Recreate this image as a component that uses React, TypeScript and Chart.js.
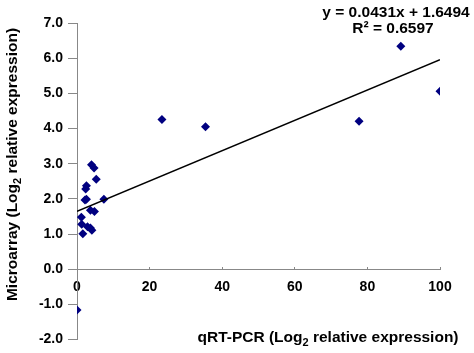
import React, { useEffect, useRef } from "react";
import { Chart, registerables } from "chart.js";

Chart.register(...registerables);

const xValues = [0, 23.4, 35.4, 77.7, 100, 89.2, 4.0, 4.7, 5.3, 2.6, 2.4, 2.2, 2.6, 7.4, 3.7, 4.8, 1.2, 1.3, 2.9, 3.7, 4.1, 1.6];
const yValues = [-1.16, 4.26, 4.05, 4.21, 5.06, 6.34, 2.97, 2.88, 2.56, 2.37, 2.28, 1.97, 1.99, 1.99, 1.68, 1.64, 1.48, 1.28, 1.21, 1.17, 1.11, 1.01];
const trendX = [0, 100];
const trendY = [1.6494, 5.9594];
const equationLines = ["y = 0.0431x + 1.6494", "R² = 0.6597"];
const yTitleParts = [{ t: "Microarray (Log" }, { t: "2", sub: true }, { t: " relative expression)" }];
const xTitleParts = [{ t: "qRT-PCR (Log" }, { t: "2", sub: true }, { t: " relative expression)" }];

const FONT = '"Liberation Sans", Arial, sans-serif';

type Part = { t: string; sub?: boolean };

function drawParts(ctx: CanvasRenderingContext2D, parts: Part[], cx: number, cy: number, size: number) {
  const main = `bold ${size}px ${FONT}`;
  const small = `bold ${Math.round(size * 0.68)}px ${FONT}`;
  let total = 0;
  const widths = parts.map((p) => {
    ctx.font = p.sub ? small : main;
    const w = ctx.measureText(p.t).width;
    total += w;
    return w;
  });
  let x = cx - total / 2;
  ctx.textAlign = "left";
  ctx.textBaseline = "alphabetic";
  parts.forEach((p, i) => {
    ctx.font = p.sub ? small : main;
    ctx.fillText(p.t, x, p.sub ? cy + size * 0.25 : cy);
    x += widths[i];
  });
}

const textPlugin = {
  id: "texts",
  afterDraw(chart: any) {
    const ctx = chart.ctx as CanvasRenderingContext2D;
    ctx.save();
    ctx.fillStyle = "#000";
    ctx.font = `bold 15.5px ${FONT}`;
    ctx.textAlign = "center";
    ctx.textBaseline = "alphabetic";
    ctx.fillText(equationLines[0], 396, 17);
    ctx.fillText(equationLines[1], 393, 33);
    drawParts(ctx, xTitleParts, 328, 342, 15.5);
    ctx.translate(17, 164.5);
    ctx.rotate(-Math.PI / 2);
    drawParts(ctx, yTitleParts, 0, 0, 15.5);
    ctx.restore();
  },
};

export default function App() {
  const ref = useRef<HTMLCanvasElement>(null);
  useEffect(() => {
    if (!ref.current) return;
    const chart = new Chart(ref.current, {
      type: "scatter",
      data: {
        datasets: [
          {
            type: "line",
            data: trendX.map((x, i) => ({ x, y: trendY[i] })),
            borderColor: "#000",
            borderWidth: 1.5,
            pointRadius: 0,
            fill: false,
          } as any,
          {
            data: xValues.map((x, i) => ({ x, y: yValues[i] })),
            backgroundColor: "#000080",
            borderColor: "#000080",
            borderWidth: 0,
            pointStyle: "rectRot",
            pointRadius: 4.5,
          },
        ],
      },
      options: {
        animation: false,
        responsive: false,
        layout: { padding: { top: 23, right: 34, bottom: 10, left: 0 } },
        plugins: { legend: { display: false }, tooltip: { enabled: false } },
        scales: {
          x: {
            type: "linear",
            min: 0,
            max: 100,
            position: { y: 0 } as any,
            ticks: { stepSize: 20, color: "#000", font: { family: FONT, size: 14, weight: "bold" }, padding: 12 },
            grid: { drawOnChartArea: false, drawTicks: true, tickLength: -3, color: "#888" },
            border: { color: "#888", width: 1 },
            afterFit: (s: any) => { s.height = 0; },
          },
          y: {
            type: "linear",
            min: -2,
            max: 7,
            ticks: { stepSize: 1, color: "#000", font: { family: FONT, size: 14, weight: "bold" }, padding: 5, callback: (v: any) => Number(v).toFixed(1) },
            grid: { drawOnChartArea: false, drawTicks: true, tickLength: 9, color: "#888" },
            border: { color: "#888", width: 1 },
            afterFit: (s: any) => { s.width = 77; },
          },
        },
      },
      plugins: [textPlugin],
    });
    return () => chart.destroy();
  }, []);
  return (
    <div style={{ position: "fixed", left: 0, top: 0, width: 474, height: 353, background: "#fff" }}>
      <canvas ref={ref} width={474} height={353} />
    </div>
  );
}
